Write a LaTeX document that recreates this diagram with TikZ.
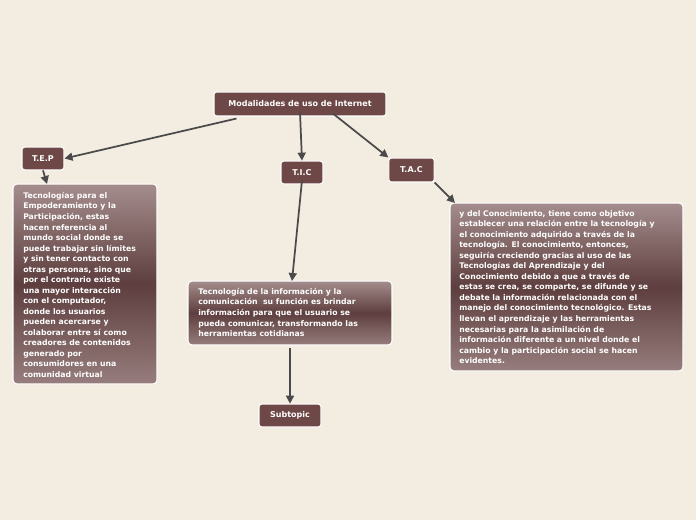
\documentclass[tikz,border=0pt]{standalone}
\usepackage{fontspec}
\setmainfont{DejaVu Sans}
\usetikzlibrary{arrows.meta}
\definecolor{bg}{HTML}{F3ECE1}
\definecolor{boxtop}{HTML}{A58D8D}
\definecolor{boxmid}{HTML}{5E3E3E}
\definecolor{boxbot}{HTML}{8E7474}
\definecolor{small}{HTML}{6E4747}
\definecolor{arr}{HTML}{4A4A4A}
\begin{document}
\begin{tikzpicture}[x=0.75pt,y=-0.75pt,
  tag/.style={draw=white,line width=0.8pt,rounded corners=2pt,fill=small,text=white,font=\fontsize{6pt}{7pt}\selectfont\bfseries,inner sep=0pt},
  para/.style={draw=white,line width=0.8pt,rounded corners=3pt,top color=boxtop,bottom color=boxbot,middle color=boxmid,shading angle=0,text=white,font=\fontsize{5.8pt}{7.9pt}\selectfont\bfseries,align=left,anchor=north west,inner sep=0pt},
  con/.style={arr,line width=1.3pt,-{Triangle[length=6pt,width=6pt]}}]
\fill[bg] (0,0) rectangle (696,520);
\useasboundingbox (0,0) rectangle (696,520);
\node[tag,minimum width=129pt,minimum height=18pt] (m) at (300,104) {Modalidades de uso de Internet};
\node[tag,minimum width=31.5pt,minimum height=17pt] (tep) at (43,158.5) {T.E.P};
\node[tag,minimum width=31.5pt,minimum height=17pt] (tic) at (302,172.5) {T.I.C};
\node[tag,minimum width=34pt,minimum height=18pt] (tac) at (411.5,170) {T.A.C};
\node[tag,minimum width=46.5pt,minimum height=17pt] (sub) at (290,415.5) {Subtopic};
% paragraph boxes
\shade[top color=boxtop,bottom color=boxtop!80!boxmid,middle color=boxmid,rounded corners=3pt] (13,184) rectangle (157,384);
\draw[white,line width=0.8pt,rounded corners=3pt] (13,184) rectangle (157,384);
\node[anchor=north west,inner sep=0pt,text=white,font=\fontsize{5.8pt}{7.9pt}\selectfont\bfseries,align=left] (tept) at (23,192) {Tecnologías para el\\Empoderamiento y la\\Participación, estas\\hacen referencia al\\mundo social donde se\\puede trabajar sin límites\\y sin tener contacto con\\otras personas, sino que\\por el contrario existe\\una mayor interacción\\con el computador,\\donde los usuarios\\pueden acercarse y\\colaborar entre sí como\\creadores de contenidos\\generado por\\consumidores en una\\comunidad virtual};
\coordinate (tepb) at (47,184);
\shade[top color=boxtop,bottom color=boxtop!80!boxmid,middle color=boxmid,rounded corners=3pt] (188,281) rectangle (392,345);
\draw[white,line width=0.8pt,rounded corners=3pt] (188,281) rectangle (392,345);
\node[anchor=north west,inner sep=0pt,text=white,font=\fontsize{5.8pt}{7.9pt}\selectfont\bfseries,align=left] (tict) at (198,288) {Tecnología de la información y la\\comunicación\ \ su función es brindar\\información para que el usuario se\\pueda comunicar, transformando las\\herramientas cotidianas};
\coordinate (ticb) at (292,281);
\coordinate (ticbot) at (290,348);
\shade[top color=boxtop,bottom color=boxtop!80!boxmid,middle color=boxmid,rounded corners=3pt] (450,203) rectangle (683,371);
\draw[white,line width=0.8pt,rounded corners=3pt] (450,203) rectangle (683,371);
\node[anchor=north west,inner sep=0pt,text=white,font=\fontsize{5.8pt}{7.9pt}\selectfont\bfseries,align=left] (tact) at (459,210) {y del Conocimiento, tiene como objetivo\\establecer una relación entre la tecnología y\\el conocimiento adquirido a través de la\\tecnología. El conocimiento, entonces,\\seguiría creciendo gracias al uso de las\\Tecnologías del Aprendizaje y del\\Conocimiento debido a que a través de\\estas se crea, se comparte, se difunde y se\\debate la información relacionada con el\\manejo del conocimiento tecnológico. Estas\\llevan el aprendizaje y las herramientas\\necesarias para la asimilación de\\información diferente a un nivel donde el\\cambio y la participación social se hacen\\evidentes.};
\coordinate (tacb) at (455,203);
% connectors
\draw[con] (m.south west)++(23,2) -- (tep.east);
\draw[con] ([xshift=0pt,yshift=3pt]m.south) -- (tic.north);
\draw[con] ([xshift=25pt,yshift=2pt]m.south) -- (tac.north west);
\draw[con] (tep.south) -- (tepb);
\draw[con] ([yshift=3pt]tic.south) -- (ticb);
\draw[con] (tac.south east) -- (tacb);
\draw[con] (ticbot) -- (sub.north);
\end{tikzpicture}
\end{document}
